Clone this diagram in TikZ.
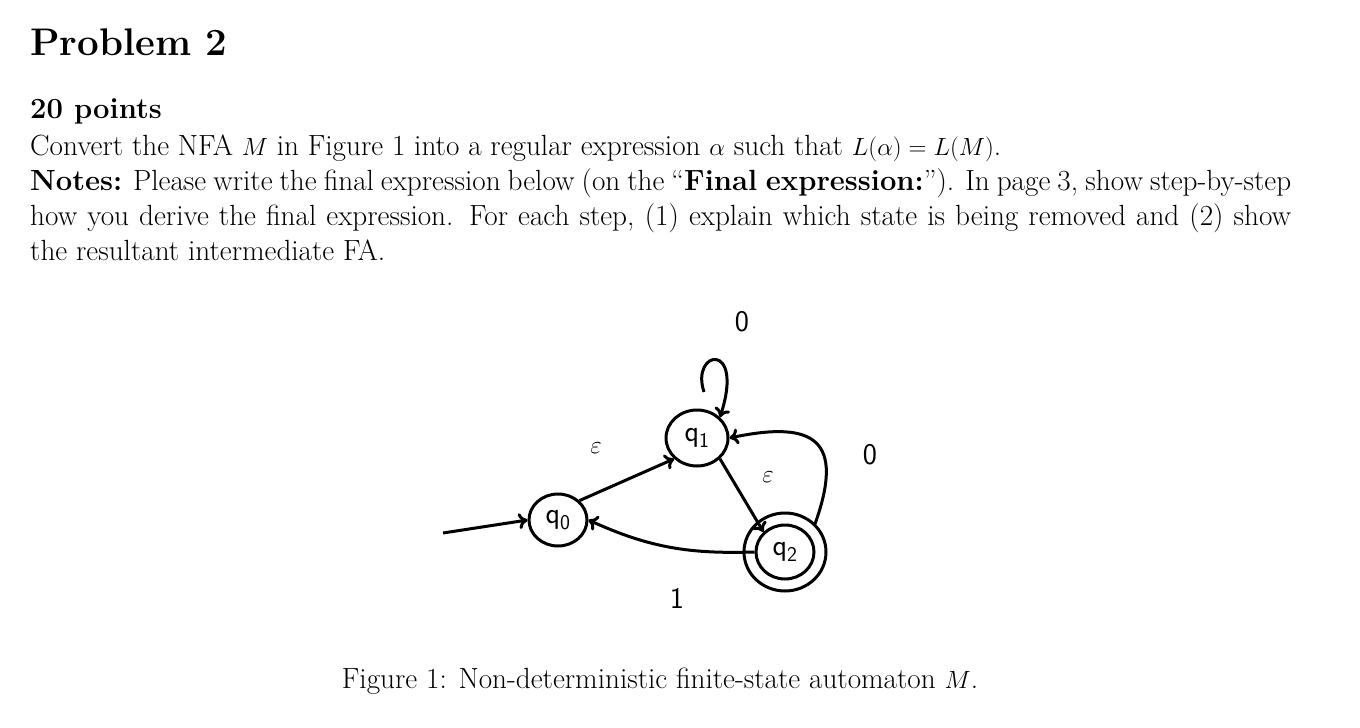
\documentclass[tikz,border=0pt]{standalone}
\usetikzlibrary{arrows.meta,shapes.geometric}
\begin{document}
\begin{tikzpicture}[x=1pt,y=-1pt,
  txt/.style={inner sep=0pt,anchor=base west,font=\fontsize{29.2}{35}\selectfont},
  st/.style={draw,ellipse,line width=3pt,minimum width=58pt,minimum height=52pt,inner sep=0pt,font=\fontsize{30}{30}\selectfont\sffamily},
  ed/.style={line width=3pt,-{To[length=9pt,width=16pt,line width=3pt]}},
  lab/.style={font=\fontsize{30}{30}\selectfont\sffamily}]
\useasboundingbox (0,0) rectangle (1360,728);
\node[txt,font=\fontsize{38.5}{42}\selectfont\bfseries] (title) at (30,55) {Problem 2};
\node[txt,font=\fontsize{29.2}{35}\selectfont\bfseries] (pts) at (30,118) {20 points};
\node[txt] (l1) at (30,155) {Convert the NFA $M$ in Figure 1 into a regular expression $\alpha$ such that $L(\alpha)=L(M)$.};
\node[txt] (l2) at (30,190) {\makebox[1261pt][s]{\textbf{Notes:} Please write the final expression below (on the ``\textbf{Final expression:}''). In page 3, show step-by-step}};
\node[txt] (l3) at (30,225) {\makebox[1261pt][s]{how you derive the final expression. For each step, (1) explain which state is being removed and (2) show}};
\node[txt] (l4) at (30,260) {the resultant intermediate FA.};
\node[txt,anchor=base] (cap) at (660,688) {Figure 1: Non-deterministic finite-state automaton $M$.};

\node[st] (q0) at (558,520) {q\textsubscript{0}};
\node[st,minimum width=62pt,minimum height=56pt] (q1) at (697,438) {q\textsubscript{1}};
\node[st,minimum width=58pt,minimum height=54pt] (q2) at (785,552) {q\textsubscript{2}};
\draw[line width=3pt] (q2) ellipse (41pt and 39pt);
\coordinate (init) at (443,533);
\draw[ed] (init) -- (q0.west);
\draw[ed] (q0.north east) -- (q1.south west);
\draw[ed] (q1.south east) -- (q2.north west);
\draw[ed] (q2.west) .. controls (690,554) and (650,548) .. (q0.east);
\draw[ed] (815,524) .. controls (845,440) and (815,420) .. (q1.east);
\draw[ed] (704,392) .. controls (690,350) and (745,340) .. (q1.north east);
\node[lab] (e1) at (596,448) {\fontsize{32}{32}\selectfont$\varepsilon$};
\node[lab] (e2) at (768,477) {\fontsize{32}{32}\selectfont$\varepsilon$};
\node[lab] (z1) at (742,322) {0};
\node[lab] (z2) at (870,455) {0};
\node[lab] (one) at (677,598) {1};
\end{tikzpicture}
\end{document}
